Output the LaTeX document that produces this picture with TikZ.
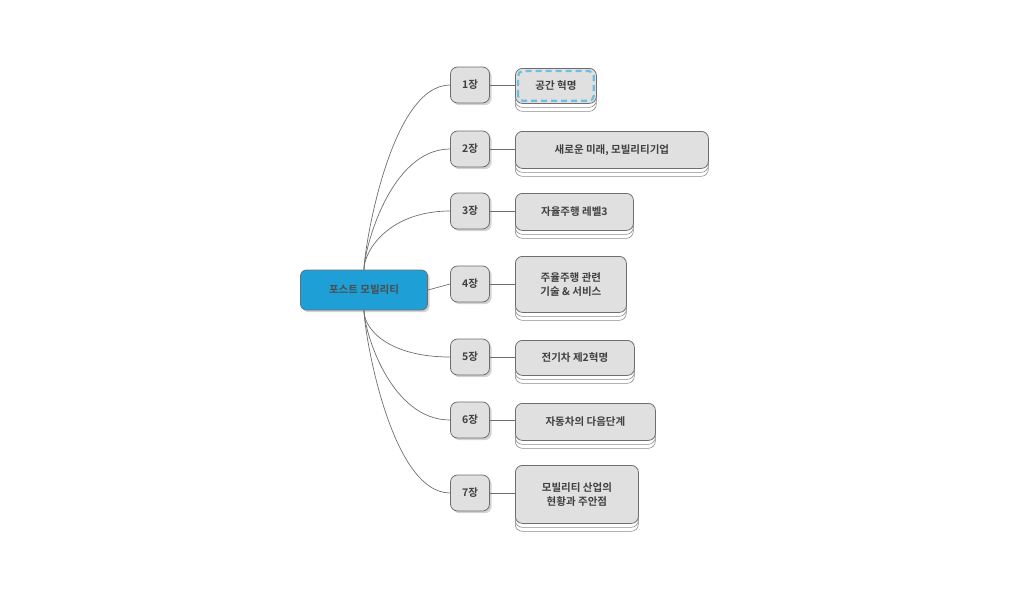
\documentclass[tikz,border=0pt]{standalone}
\usepackage{fontspec}
\newfontfamily\kor{Noto Sans CJK KR}[BoldFont={Noto Sans CJK KR Bold}]
\usetikzlibrary{shadows}
\definecolor{rootblue}{RGB}{30, 160, 215}
\definecolor{boxgray}{RGB}{224, 224, 224}
\definecolor{edgegray}{RGB}{110, 110, 110}
\definecolor{dashblue}{RGB}{110, 190, 225}
\tikzset{
  every node/.style={font=\kor\bfseries\fontsize{10.5}{14}\selectfont, text=black!75},
  root/.style={rectangle, rounded corners=6pt, draw=edgegray, fill=rootblue, line width=0.8pt,
    minimum width=127pt, minimum height=40pt, drop shadow={opacity=0.35}},
  chap/.style={rectangle, rounded corners=7pt, draw=edgegray, fill=boxgray, line width=0.8pt,
    minimum width=39pt, minimum height=36pt, inner sep=2pt, drop shadow={opacity=0.35}},
  topic/.style={rectangle, rounded corners=7pt, draw=edgegray, fill=boxgray, line width=0.8pt,
    anchor=north west, align=center, inner sep=2pt},
  layer/.style={rectangle, rounded corners=7pt, draw=edgegray!80, fill=white, line width=0.6pt,
    anchor=north west, inner sep=0pt},
  link/.style={draw=edgegray, line width=0.7pt}
}
% topic box: name, top y, width, height, text
\newcommand{\topicbox}[5]{
  \node[layer, minimum width=#3pt, minimum height=#4pt] at (515,#2+8) {};
  \node[layer, minimum width=#3pt, minimum height=#4pt] at (515,#2+4) {};
  \node[topic, minimum width=#3pt, minimum height=#4pt] (#1) at (515,#2) {#5};
}
\begin{document}
\begin{tikzpicture}[x=1pt, y=-1pt]
  \useasboundingbox (0,0) rectangle (1035,592);
  \node[root] (post) at (364,290) {\textcolor{black!70}{포스트 모빌리티}};

  \foreach \i/\y in {1/85, 2/149, 3/211, 4/284, 5/357, 6/420, 7/493}
    \node[chap] (ch\i) at (470,\y) {{\i}장};

  % upper curves from the top, lower from the bottom
  \foreach \i in {1,2,3}
    \draw[link] (post.north) .. controls +(0,-20) and +(-60,0) .. (ch\i.west);
  \draw[link] (post.east) -- (ch4.west);
  \foreach \i in {5,6,7}
    \draw[link] (post.south) .. controls +(0,20) and +(-60,0) .. (ch\i.west);

  \topicbox{tp1}{68}{81}{35}{공간 혁명}
  \draw[dashblue, line width=2.2pt, dash pattern=on 6pt off 4pt, rounded corners=5pt]
    ([shift={(3,-3)}]tp1.south west) rectangle ([shift={(-3,3)}]tp1.north east);
  \topicbox{tp2}{131}{193}{37}{새로운 미래, 모빌리티기업}
  \topicbox{tp3}{193}{118}{37}{자율주행 레벨3}
  \topicbox{tp4}{256}{111}{56}{주율주행 관련\\기술 \& 서비스}
  \topicbox{tp5}{340}{119}{35}{전기차 제2혁명}
  \topicbox{tp6}{403}{140}{37}{자동차의 다음단계}
  \topicbox{tp7}{465}{123}{58}{모빌리티 산업의\\현황과 주안점}

  \foreach \i in {1,...,7}
    \draw[link] (ch\i.east) -- (ch\i.east -| tp\i.west);
\end{tikzpicture}
\end{document}
